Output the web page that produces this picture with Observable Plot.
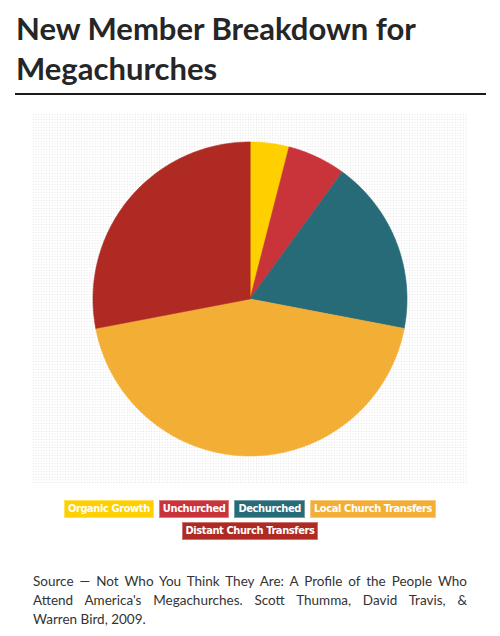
<!DOCTYPE html>
<html>
<head>
<meta charset="utf-8">
<script src="https://cdn.jsdelivr.net/npm/d3@7"></script>
<script src="https://cdn.jsdelivr.net/npm/@observablehq/plot@0.6"></script>
<style>
  html, body { margin: 0; padding: 0; background: #fff; }
  body { width: 500px; height: 636px; position: relative; overflow: hidden; }
  #title {
    position: absolute; left: 16px; top: 8px; width: 475px;
    font-family: "Lato", "Open Sans", sans-serif; font-weight: 700;
    font-size: 31px; line-height: 40px; color: #262626; margin: 0;
  }
  #rule { position: absolute; left: 15px; top: 93px; width: 471px; height: 2px; background: #1a1a1a; }
  #chart {
    position: absolute; left: 32px; top: 113px; width: 435px; height: 371px;
    background-color: #fff;
    background-image: radial-gradient(circle, #dedede 0.75px, transparent 0.9px);
    background-size: 2.7px 2.7px;
  }
  #chart svg { background: transparent !important; display: block; }
  #legend {
    position: absolute; left: 40px; top: 500px; width: 420px;
    display: flex; flex-wrap: wrap; justify-content: center; gap: 4px 5px;
  }
  #legend span {
    font-family: "DejaVu Sans Condensed", "DejaVu Sans", sans-serif; font-stretch: condensed; font-weight: 700;
    font-size: 11px; letter-spacing: -0.4px; line-height: 16px; color: #fff; padding: 0 3px;
    border: 1px solid rgba(255,255,255,0.35); box-sizing: border-box; height: 18px;
  }
  #caption {
    position: absolute; left: 33px; top: 572px; width: 434px;
    font-family: "Lato", sans-serif; font-size: 13.5px; line-height: 19px;
    color: #333; margin: 0;
  }
  #caption div { text-align: justify; text-align-last: justify; white-space: nowrap; }
  #caption div:last-child { text-align-last: left; }
</style>
</head>
<body>
<h1 id="title">New Member Breakdown for Megachurches</h1>
<div id="rule"></div>
<div id="chart"></div>
<div id="legend"></div>
<div id="caption">
  <div>Source — Not Who You Think They Are: A Profile of the People Who</div>
  <div>Attend America's Megachurches. Scott Thumma, David Travis, &amp;</div>
  <div>Warren Bird, 2009.</div>
</div>
<script>
const categories = ["Organic Growth", "Unchurched", "Dechurched", "Local Church Transfers", "Distant Church Transfers"];
const shares = [4, 6, 18, 44, 28];
const colors = ["#FFD000", "#C9343A", "#276B79", "#F3AE36", "#AE2A22"];

// Build slice polygons from the pie layout (angles from 12 o'clock, clockwise)
const arcs = d3.pie().sort(null)(shares);
const points = [];
arcs.forEach((a, i) => {
  const cat = categories[i];
  points.push({cat, x: 0, y: 0});
  const n = Math.max(4, Math.ceil((a.endAngle - a.startAngle) / 0.01));
  for (let k = 0; k <= n; k++) {
    const t = a.startAngle + (a.endAngle - a.startAngle) * k / n;
    points.push({cat, x: Math.sin(t), y: Math.cos(t)});
  }
});

const W = 435, H = 371, R = 157;
const chart = Plot.plot({
  width: W,
  height: H,
  marginLeft: W / 2 - R,
  marginRight: W / 2 - R,
  marginTop: H / 2 - R,
  marginBottom: H / 2 - R,
  x: {domain: [-1, 1], axis: null},
  y: {domain: [-1, 1], axis: null},
  color: {domain: categories, range: colors},
  style: {background: "transparent"},
  marks: [
    Plot.line(points, {x: "x", y: "y", z: "cat", fill: "cat", stroke: "cat", strokeWidth: 0.6, curve: "linear-closed"})
  ]
});
document.getElementById("chart").appendChild(chart);

const legend = document.getElementById("legend");
categories.forEach((c, i) => {
  const s = document.createElement("span");
  s.textContent = c;
  s.style.background = colors[i];
  legend.appendChild(s);
});
</script>
</body>
</html>
